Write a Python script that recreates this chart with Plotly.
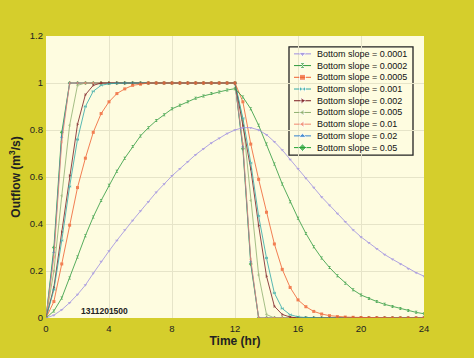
import plotly.graph_objects as go

times = [0, 0.5, 1, 1.5, 2, 2.5, 3, 3.5, 4, 4.5, 5, 5.5, 6, 6.5, 7, 7.5, 8, 8.5, 9, 9.5,
         10, 10.5, 11, 11.5, 12, 12.5, 13, 13.5, 14, 14.5, 15, 15.5, 16, 16.5, 17, 17.5,
         18, 18.5, 19, 19.5, 20, 20.5, 21, 21.5, 22, 22.5, 23, 23.5, 24]

slope_0001 = [0, 0.012, 0.035, 0.065, 0.10, 0.14, 0.19, 0.24, 0.285, 0.33, 0.375, 0.415, 0.455,
              0.495, 0.535, 0.57, 0.605, 0.635, 0.665, 0.695, 0.72, 0.745, 0.765, 0.785, 0.80,
              0.81, 0.81, 0.80, 0.78, 0.75, 0.715, 0.675, 0.635, 0.595, 0.555, 0.515, 0.48,
              0.445, 0.41, 0.375, 0.345, 0.32, 0.295, 0.27, 0.25, 0.23, 0.21, 0.193, 0.178]
slope_0002 = [0, 0.03, 0.085, 0.17, 0.26, 0.35, 0.43, 0.50, 0.565, 0.625, 0.68, 0.73, 0.775,
              0.81, 0.84, 0.865, 0.89, 0.905, 0.92, 0.935, 0.945, 0.955, 0.962, 0.97, 0.976,
              0.94, 0.89, 0.82, 0.74, 0.655, 0.57, 0.495, 0.425, 0.36, 0.303, 0.255, 0.215,
              0.18, 0.148, 0.12, 0.098, 0.083, 0.07, 0.058, 0.049, 0.04, 0.032, 0.024, 0.018]
slope_0005 = [0, 0.07, 0.23, 0.395, 0.555, 0.68, 0.79, 0.87, 0.92, 0.955, 0.975, 0.99, 0.995,
              1, 1, 1, 1, 1, 1, 1, 1, 1, 1, 1, 1,
              0.92, 0.74, 0.59, 0.45, 0.315, 0.207, 0.13, 0.077, 0.048, 0.028, 0.017, 0.01,
              0.006, 0.004, 0.003, 0.002, 0.001, 0.001, 0, 0, 0, 0, 0, 0]
slope_001 = [0, 0.12, 0.33, 0.56, 0.76, 0.90, 0.965, 0.99, 0.997, 1, 1, 1, 1,
             1, 1, 1, 1, 1, 1, 1, 1, 1, 1, 1, 1,
             0.85, 0.66, 0.434, 0.255, 0.106, 0.04, 0.014, 0.005, 0.002, 0, 0, 0,
             0, 0, 0, 0, 0, 0, 0, 0, 0, 0, 0, 0]
slope_002 = [0, 0.13, 0.366, 0.605, 0.824, 0.95, 0.99, 1, 1, 1, 1, 1, 1,
             1, 1, 1, 1, 1, 1, 1, 1, 1, 1, 1, 1,
             0.82, 0.634, 0.394, 0.178, 0.05, 0.015, 0.004, 0, 0, 0, 0, 0,
             0, 0, 0, 0, 0, 0, 0, 0, 0, 0, 0, 0]
slope_005 = [0, 0.20, 0.52, 0.82, 0.99, 1, 1, 1, 1, 1, 1, 1, 1,
             1, 1, 1, 1, 1, 1, 1, 1, 1, 1, 1, 1,
             0.84, 0.50, 0.183, 0.015, 0, 0, 0, 0, 0, 0, 0, 0,
             0, 0, 0, 0, 0, 0, 0, 0, 0, 0, 0, 0]
slope_01 = [0, 0.26, 0.75, 1, 1, 1, 1, 1, 1, 1, 1, 1, 1,
            1, 1, 1, 1, 1, 1, 1, 1, 1, 1, 1, 1,
            0.74, 0.25, 0, 0, 0, 0, 0, 0, 0, 0, 0, 0,
            0, 0, 0, 0, 0, 0, 0, 0, 0, 0, 0, 0]
slope_02 = [0, 0.28, 0.77, 1, 1, 1, 1, 1, 1, 1, 1, 1, 1,
            1, 1, 1, 1, 1, 1, 1, 1, 1, 1, 1, 1,
            0.73, 0.24, 0, 0, 0, 0, 0, 0, 0, 0, 0, 0,
            0, 0, 0, 0, 0, 0, 0, 0, 0, 0, 0, 0]
slope_05 = [0, 0.30, 0.79, 1, 1, 1, 1, 1, 1, 1, 1, 1, 1,
            1, 1, 1, 1, 1, 1, 1, 1, 1, 1, 1, 1,
            0.72, 0.23, 0, 0, 0, 0, 0, 0, 0, 0, 0, 0,
            0, 0, 0, 0, 0, 0, 0, 0, 0, 0, 0, 0]

series_names = ["Bottom slope = 0.0001", "Bottom slope = 0.0002", "Bottom slope = 0.0005",
                "Bottom slope = 0.001", "Bottom slope = 0.002", "Bottom slope = 0.005",
                "Bottom slope = 0.01", "Bottom slope = 0.02", "Bottom slope = 0.05"]
series_values = [slope_0001, slope_0002, slope_0005, slope_001, slope_002, slope_005,
                 slope_01, slope_02, slope_05]
colors = ["#9E8FE0", "#2E9A3E", "#F06030", "#30A8A8", "#7A1A20", "#90B070",
          "#F08870", "#3080D0", "#20A030"]
symbols = ["triangle-down", "hourglass", "square", "bowtie", "triangle-right",
           "triangle-left", "triangle-left", "triangle-up", "diamond"]
x_ticks = [0, 4, 8, 12, 16, 20, 24]
y_ticks = [0, 0.2, 0.4, 0.6, 0.8, 1, 1.2]
station_label = "1311201500"

# layout constants (pixels)
W, H = 474, 358
ML, MR, MT, MB = 46, 50, 36, 38
LEG_X0, LEG_X1, LEG_Y0, LEG_Y1 = 289, 413, 47, 156
LEG_ROW0, LEG_STEP = 54, 11.8
LEG_LINE_X0, LEG_LINE_X1, LEG_TEXT_X = 294, 311, 315

fig = go.Figure()
# draw order: fast series first so the slower curves sit on top
order = [8, 7, 5, 6, 4, 3, 2, 1, 0]
for i in order:
    fig.add_trace(go.Scatter(
        x=times, y=series_values[i], name=series_names[i], mode="lines+markers",
        line=dict(color=colors[i], width=1),
        marker=dict(symbol=symbols[i], size=3, color=colors[i]),
        opacity=0.8, showlegend=False,
    ))

# custom legend drawn on a hidden pixel-unit overlay axis
for i, (name, col, sym) in enumerate(zip(series_names, colors, symbols)):
    yc = LEG_ROW0 + LEG_STEP * i
    xm = (LEG_LINE_X0 + LEG_LINE_X1) / 2
    fig.add_trace(go.Scatter(
        x=[LEG_LINE_X0, xm, LEG_LINE_X1], y=[yc, yc, yc], mode="lines+markers",
        line=dict(color=col, width=1), marker=dict(symbol=sym, size=[0, 6, 0], color=col),
        xaxis="x2", yaxis="y2", showlegend=False, hoverinfo="skip", cliponaxis=False,
    ))
    fig.add_annotation(x=LEG_TEXT_X, y=yc, xref="x2", yref="y2", text=name,
                       showarrow=False, xanchor="left", yanchor="middle",
                       font=dict(family="Liberation Sans, Arial", size=9, color="#111111"))

fig.add_shape(type="rect", xref="x2", yref="y2", x0=LEG_X0, x1=LEG_X1, y0=LEG_Y0, y1=LEG_Y1,
              line=dict(color="#222222", width=1.3), fillcolor="#FEFCE0", layer="below")

fig.add_annotation(x=2.1, y=0.03, text="<b>" + station_label + "</b>", showarrow=False,
                   xanchor="left", yanchor="middle",
                   font=dict(family="Liberation Sans, Arial", size=8.5, color="#222222"))

fig.update_layout(
    width=W, height=H,
    margin=dict(l=ML, r=MR, t=MT, b=MB),
    paper_bgcolor="#D5CE2C",
    plot_bgcolor="#FEFCE0",
    font=dict(family="Liberation Sans, Arial", size=10, color="#222222"),
    showlegend=False,
    xaxis=dict(range=[0, 24], tickvals=x_ticks, showgrid=True, gridcolor="#E6E4C8",
               gridwidth=1, zeroline=False, ticks="", showline=False,
               ticklabelstandoff=3,
               title=dict(text="<b>Time (hr)</b>", font=dict(size=12), standoff=4),
               tickfont=dict(size=9.5)),
    yaxis=dict(range=[0, 1.2], tickvals=y_ticks, showgrid=True, gridcolor="#E6E4C8",
               gridwidth=1, zeroline=False, ticks="", showline=False,
               ticklabelstandoff=2,
               title=dict(text="<b>Outflow (m<sup>3</sup>/s)</b>", font=dict(size=12), standoff=6),
               tickfont=dict(size=9.5)),
    xaxis2=dict(overlaying="x", range=[ML, W - MR], visible=False, fixedrange=True),
    yaxis2=dict(overlaying="y", range=[H - MB, MT], visible=False, fixedrange=True),
)

fig.write_html("out.html", config={"displayModeBar": False},
               post_script="document.body.style.margin='0px';"
                           "document.body.style.background='#D5CE2C';")
